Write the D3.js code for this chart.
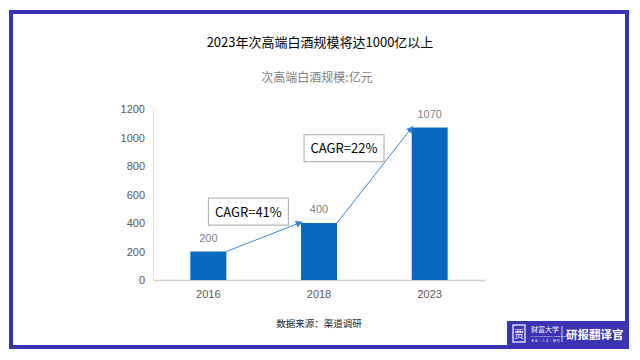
<html>
<head>
<meta charset="utf-8">
<title>次高端白酒规模</title>
<style>
	body { margin: 0; background: #ffffff; }
	.tick text { font-family: "Liberation Sans Narrow", "Liberation Sans", Arial, sans-serif; font-size: 11px; fill: #595959; }
	.cjk { font-family: "Noto Sans CJK SC", sans-serif; }
</style>
</head>
<body>
<script src="https://cdn.jsdelivr.net/npm/d3@7"></script>
<script>
// data
var years = ["2016", "2018", "2023"];
var values = [200, 400, 1070];
var yTicks = [0, 200, 400, 600, 800, 1000, 1200];
var cagrLabels = ["CAGR=41%", "CAGR=22%"];

var width = 640, height = 360;
var svg = d3.select("body").append("svg")
	.attr("width", width)
	.attr("height", height);

// outer frame
svg.append("rect")
	.attr("x", 11).attr("y", 12)
	.attr("width", 616).attr("height", 335)
	.attr("fill", "none")
	.attr("stroke", "#3b33b4")
	.attr("stroke-width", 4);

// titles
svg.append("text").attr("class", "cjk")
	.attr("x", 320).attr("y", 47)
	.attr("text-anchor", "middle")
	.attr("font-size", 13)
	.attr("fill", "#000")
	.text("2023年次高端白酒规模将达1000亿以上");
svg.append("text").attr("class", "cjk")
	.attr("x", 317).attr("y", 82)
	.attr("text-anchor", "middle")
	.attr("font-size", 12)
	.attr("fill", "#808080")
	.text("次高端白酒规模:亿元");

var x = d3.scaleBand()
	.domain(years)
	.range([153, 485])
	.paddingInner(0.675)
	.paddingOuter(0.3375);
var y = d3.scaleLinear()
	.domain([0, 1200])
	.range([280, 109]);

// y axis
var yAxis = svg.append("g")
	.attr("transform", "translate(153,0)")
	.call(d3.axisLeft(y).tickValues(yTicks).tickFormat(d3.format("d")).tickSize(0).tickPadding(8));
yAxis.select(".domain").attr("stroke", "#e0e0e0");

// x axis
var xAxis = svg.append("g")
	.attr("transform", "translate(0,280)")
	.call(d3.axisBottom(x).tickSize(0).tickPadding(10).tickSizeOuter(0));
xAxis.select(".domain").attr("stroke", "#d0d0d0").attr("stroke-width", 1.5);

// bars
svg.selectAll(".bar")
	.data(values)
	.enter()
	.append("rect")
	.attr("class", "bar")
	.attr("x", function(d, i){ return x(years[i]); })
	.attr("y", function(d){ return y(d); })
	.attr("width", x.bandwidth())
	.attr("height", function(d){ return y(0) - y(d); })
	.attr("fill", "#0868c2");

// value labels
svg.selectAll(".val")
	.data(values)
	.enter()
	.append("text")
	.attr("class", "val")
	.attr("x", function(d, i){ return x(years[i]) + x.bandwidth() / 2; })
	.attr("y", function(d){ return y(d) - 10; })
	.attr("text-anchor", "middle")
	.attr("font-family", "'Liberation Sans Narrow', 'Liberation Sans', Arial, sans-serif")
	.attr("font-size", 11)
	.attr("fill", "#7f7f7f")
	.text(function(d){ return d; });

// arrows between bars
svg.append("defs").append("marker")
	.attr("id", "arrow")
	.attr("viewBox", "0 0 10 10")
	.attr("refX", 9).attr("refY", 5)
	.attr("markerWidth", 7).attr("markerHeight", 7)
	.attr("orient", "auto")
	.append("path")
	.attr("d", "M0,0L10,5L0,10z")
	.attr("fill", "#2f80d0");

var links = d3.range(values.length - 1);
svg.selectAll(".arrow")
	.data(links)
	.enter()
	.append("line")
	.attr("class", "arrow")
	.attr("x1", function(i){ return x(years[i]) + x.bandwidth(); })
	.attr("y1", function(i){ return y(values[i]); })
	.attr("x2", function(i){ return x(years[i + 1]) + 1; })
	.attr("y2", function(i){ return y(values[i + 1]) - 1; })
	.attr("stroke", "#3a8ad6")
	.attr("stroke-width", 1)
	.attr("marker-end", "url(#arrow)");

// CAGR boxes
var boxLeft = [18, 3];      // offset from bar left
var boxMid = [480, 925];    // vertical centre in value units
var boxW = 80, boxH = 27;
var boxes = svg.selectAll(".cagr")
	.data(cagrLabels)
	.enter()
	.append("g")
	.attr("class", "cagr")
	.attr("transform", function(d, i){
		return "translate(" + (x(years[i]) + boxLeft[i]) + "," + (y(boxMid[i]) - boxH / 2) + ")";
	});
boxes.append("rect")
	.attr("width", boxW).attr("height", boxH)
	.attr("fill", "#fff")
	.attr("stroke", "#a6a6a6")
	.attr("stroke-width", 1);
boxes.append("text").attr("class", "cjk")
	.attr("x", boxW / 2).attr("y", boxH / 2 + 5)
	.attr("text-anchor", "middle")
	.attr("font-size", 13)
	.attr("fill", "#000")
	.text(function(d){ return d; });

// source
svg.append("text").attr("class", "cjk")
	.attr("x", 319).attr("y", 327)
	.attr("text-anchor", "middle")
	.attr("font-size", 9.5)
	.attr("fill", "#222")
	.text("数据来源：渠道调研");

// logo block
var logo = svg.append("g").attr("transform", "translate(507,321)");
logo.append("rect").attr("width", 122).attr("height", 26).attr("fill", "#3b33b4");
logo.append("rect").attr("x", 6).attr("y", 4).attr("width", 12).attr("height", 17)
	.attr("fill", "none").attr("stroke", "#fff").attr("stroke-width", 1.2);
logo.append("text").attr("class", "cjk")
	.attr("x", 12).attr("y", 17).attr("text-anchor", "middle")
	.attr("font-size", 10).attr("fill", "#fff").text("贾");
logo.append("text").attr("class", "cjk")
	.attr("x", 24).attr("y", 11)
	.attr("font-size", 7).attr("fill", "#fff").text("财富大学");
logo.append("text")
	.attr("x", 24).attr("y", 16)
	.attr("font-family", "Liberation Sans, sans-serif")
	.attr("font-size", 2.4).attr("fill", "#fff").text("CAIFU UNIVERSITY RESEARCH");
logo.append("text").attr("class", "cjk")
	.attr("x", 24).attr("y", 21)
	.attr("font-size", 3).attr("fill", "#fff").text("专 业 · 人 才 · 研 究");
logo.append("line").attr("x1", 55).attr("x2", 55).attr("y1", 5).attr("y2", 21)
	.attr("stroke", "#fff").attr("stroke-width", 0.8);
logo.append("text").attr("class", "cjk")
	.attr("x", 59).attr("y", 17.5)
	.attr("font-size", 11.5).attr("font-weight", "bold")
	.attr("fill", "#fff").text("研报翻译官");
</script>
</body>
</html>
